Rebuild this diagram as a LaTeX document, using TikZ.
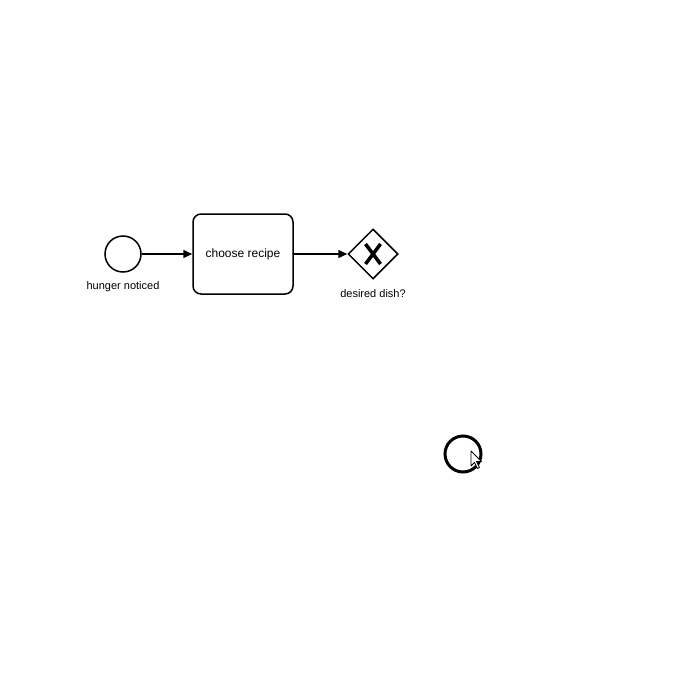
\documentclass[tikz,border=0pt]{standalone}
\usepackage{fontspec}
\setmainfont{Liberation Sans}
\usetikzlibrary{shapes.geometric,arrows.meta,calc}
\begin{document}
\begin{tikzpicture}[x=1pt,y=-1pt,
  event/.style={circle,draw,line width=1.5pt,minimum size=36pt,inner sep=0pt},
  endevt/.style={circle,draw,line width=3pt,minimum size=36pt,inner sep=0pt},
  task/.style={draw,rounded corners=8pt,line width=1.5pt,minimum width=100pt,minimum height=80pt,font=\fontsize{12}{14}\selectfont},
  gate/.style={diamond,draw,line width=1.5pt,minimum size=50pt,inner sep=0pt},
  lbl/.style={font=\fontsize{11}{12}\selectfont,inner sep=0pt},
  flow/.style={line width=1.5pt,-{Triangle[length=9pt,width=8pt]}}]
\useasboundingbox (0,0) rectangle (672,682);
\node[event] (start) at (123,254) {};
\node[lbl] (startlbl) at (123,286.5) {hunger noticed};
\node[task] (task) at (243,254) {choose recipe};
\node[gate] (gw) at (373,254) {};
\node[lbl] (gwlbl) at (373,293.5) {desired dish?};
\draw[line width=3.5pt] ($(gw)+(-7.5,-10)$) -- ($(gw)+(7.5,10)$);
\draw[line width=3.5pt] ($(gw)+(7.5,-10)$) -- ($(gw)+(-7.5,10)$);
\draw[flow] (start) -- (task);
\draw[flow] (task) -- (gw);
\node[endevt,minimum size=36pt] (endc) at (463,454) {};
\coordinate (cur) at (471,451);
\draw[fill=white,line width=0.8pt,line join=round] (cur) -- ++(0,15) -- ++(3.5,-3.5) -- ++(3,6) -- ++(2,-1) -- ++(-3,-6) -- ++(5,0) -- cycle;
\end{tikzpicture}
\end{document}
